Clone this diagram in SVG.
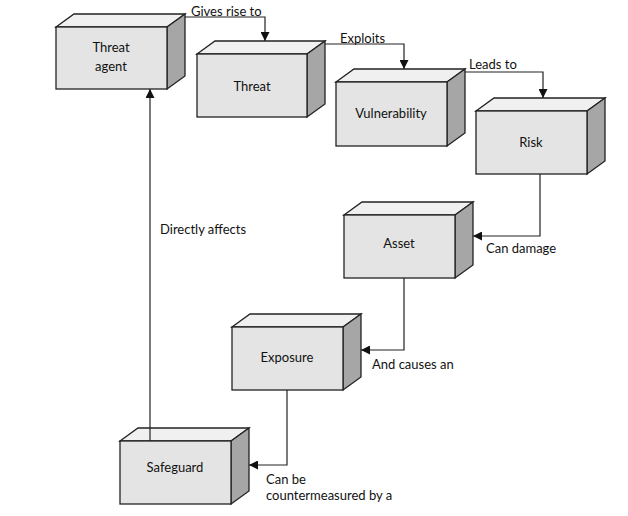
<svg xmlns="http://www.w3.org/2000/svg" width="628" height="516" viewBox="0 0 628 516">
<defs>
<style>
.f{fill:#e4e4e4;stroke:#222;stroke-width:1.3}
.t{fill:#f0f0f0;stroke:#222;stroke-width:1.3}
.s{fill:#a6a6a6;stroke:#222;stroke-width:1.3}
text{font-family:Lato,"Open Sans",sans-serif;font-size:13px;fill:#111}
.c{text-anchor:middle}
.l{fill:none;stroke:#222;stroke-width:1.2;marker-end:url(#a)}
</style>
<marker id="a" viewBox="0 0 10 10" refX="10" refY="5" markerWidth="9" markerHeight="9" markerUnits="userSpaceOnUse" orient="auto"><path d="M0,0L10,5L0,10z" fill="#111"/></marker>
</defs>
<rect width="628" height="516" fill="#fff"/>
<g id="threat-agent"><path class="t" d="M56,27l18,-13h111l-18,13z"/><path class="s" d="M167,27l18,-13v62l-18,13z"/><rect class="f" x="56" y="27" width="111" height="62"/><text class="c" x="111" y="52">Threat</text><text class="c" x="111" y="71">agent</text></g>
<g id="threat"><path class="t" d="M197,54l18,-13h110l-18,13z"/><path class="s" d="M307,54l18,-13v63l-18,13z"/><rect class="f" x="197" y="54" width="110" height="63"/><text class="c" x="252" y="91">Threat</text></g>
<g id="vulnerability"><path class="t" d="M336,82l18,-13h111l-18,13z"/><path class="s" d="M447,82l18,-13v64l-18,13z"/><rect class="f" x="336" y="82" width="111" height="64"/><text class="c" x="391" y="118">Vulnerability</text></g>
<g id="risk"><path class="t" d="M476,111l18,-13h111l-18,13z"/><path class="s" d="M587,111l18,-13v63l-18,13z"/><rect class="f" x="476" y="111" width="111" height="63"/><text class="c" x="531" y="147">Risk</text></g>
<g id="asset"><path class="t" d="M344,215l18,-13h111l-18,13z"/><path class="s" d="M455,215l18,-13v63l-18,13z"/><rect class="f" x="344" y="215" width="111" height="63"/><text class="c" x="399" y="248">Asset</text></g>
<g id="exposure"><path class="t" d="M232,327l18,-13h111l-18,13z"/><path class="s" d="M343,327l18,-13v63l-18,13z"/><rect class="f" x="232" y="327" width="111" height="63"/><text class="c" x="287" y="362">Exposure</text></g>
<g id="safeguard"><path class="t" d="M120,441l18,-13h111l-18,13z"/><path class="s" d="M231,441l18,-13v63l-18,13z"/><rect class="f" x="120" y="441" width="111" height="63"/><text class="c" x="175" y="472">Safeguard</text></g>
<g id="connectors">
<path class="l" d="M185,17H265V41"/>
<path class="l" d="M325,44H404V69"/>
<path class="l" d="M465,72H543V98"/>
<path class="l" d="M540,174V236H473"/>
<path class="l" d="M404,278V350H361"/>
<path class="l" d="M287,390V465H249"/>
<path class="l" d="M150,441V89"/>
</g>
<g id="labels">
<text x="191" y="16">Gives rise to</text>
<text x="340" y="43">Exploits</text>
<text x="469" y="69">Leads to</text>
<text x="486" y="253">Can damage</text>
<text x="372" y="369">And causes an</text>
<text x="266" y="484">Can be</text>
<text x="266" y="500">countermeasured by a</text>
<text x="160" y="234">Directly affects</text>
</g>
</svg>
